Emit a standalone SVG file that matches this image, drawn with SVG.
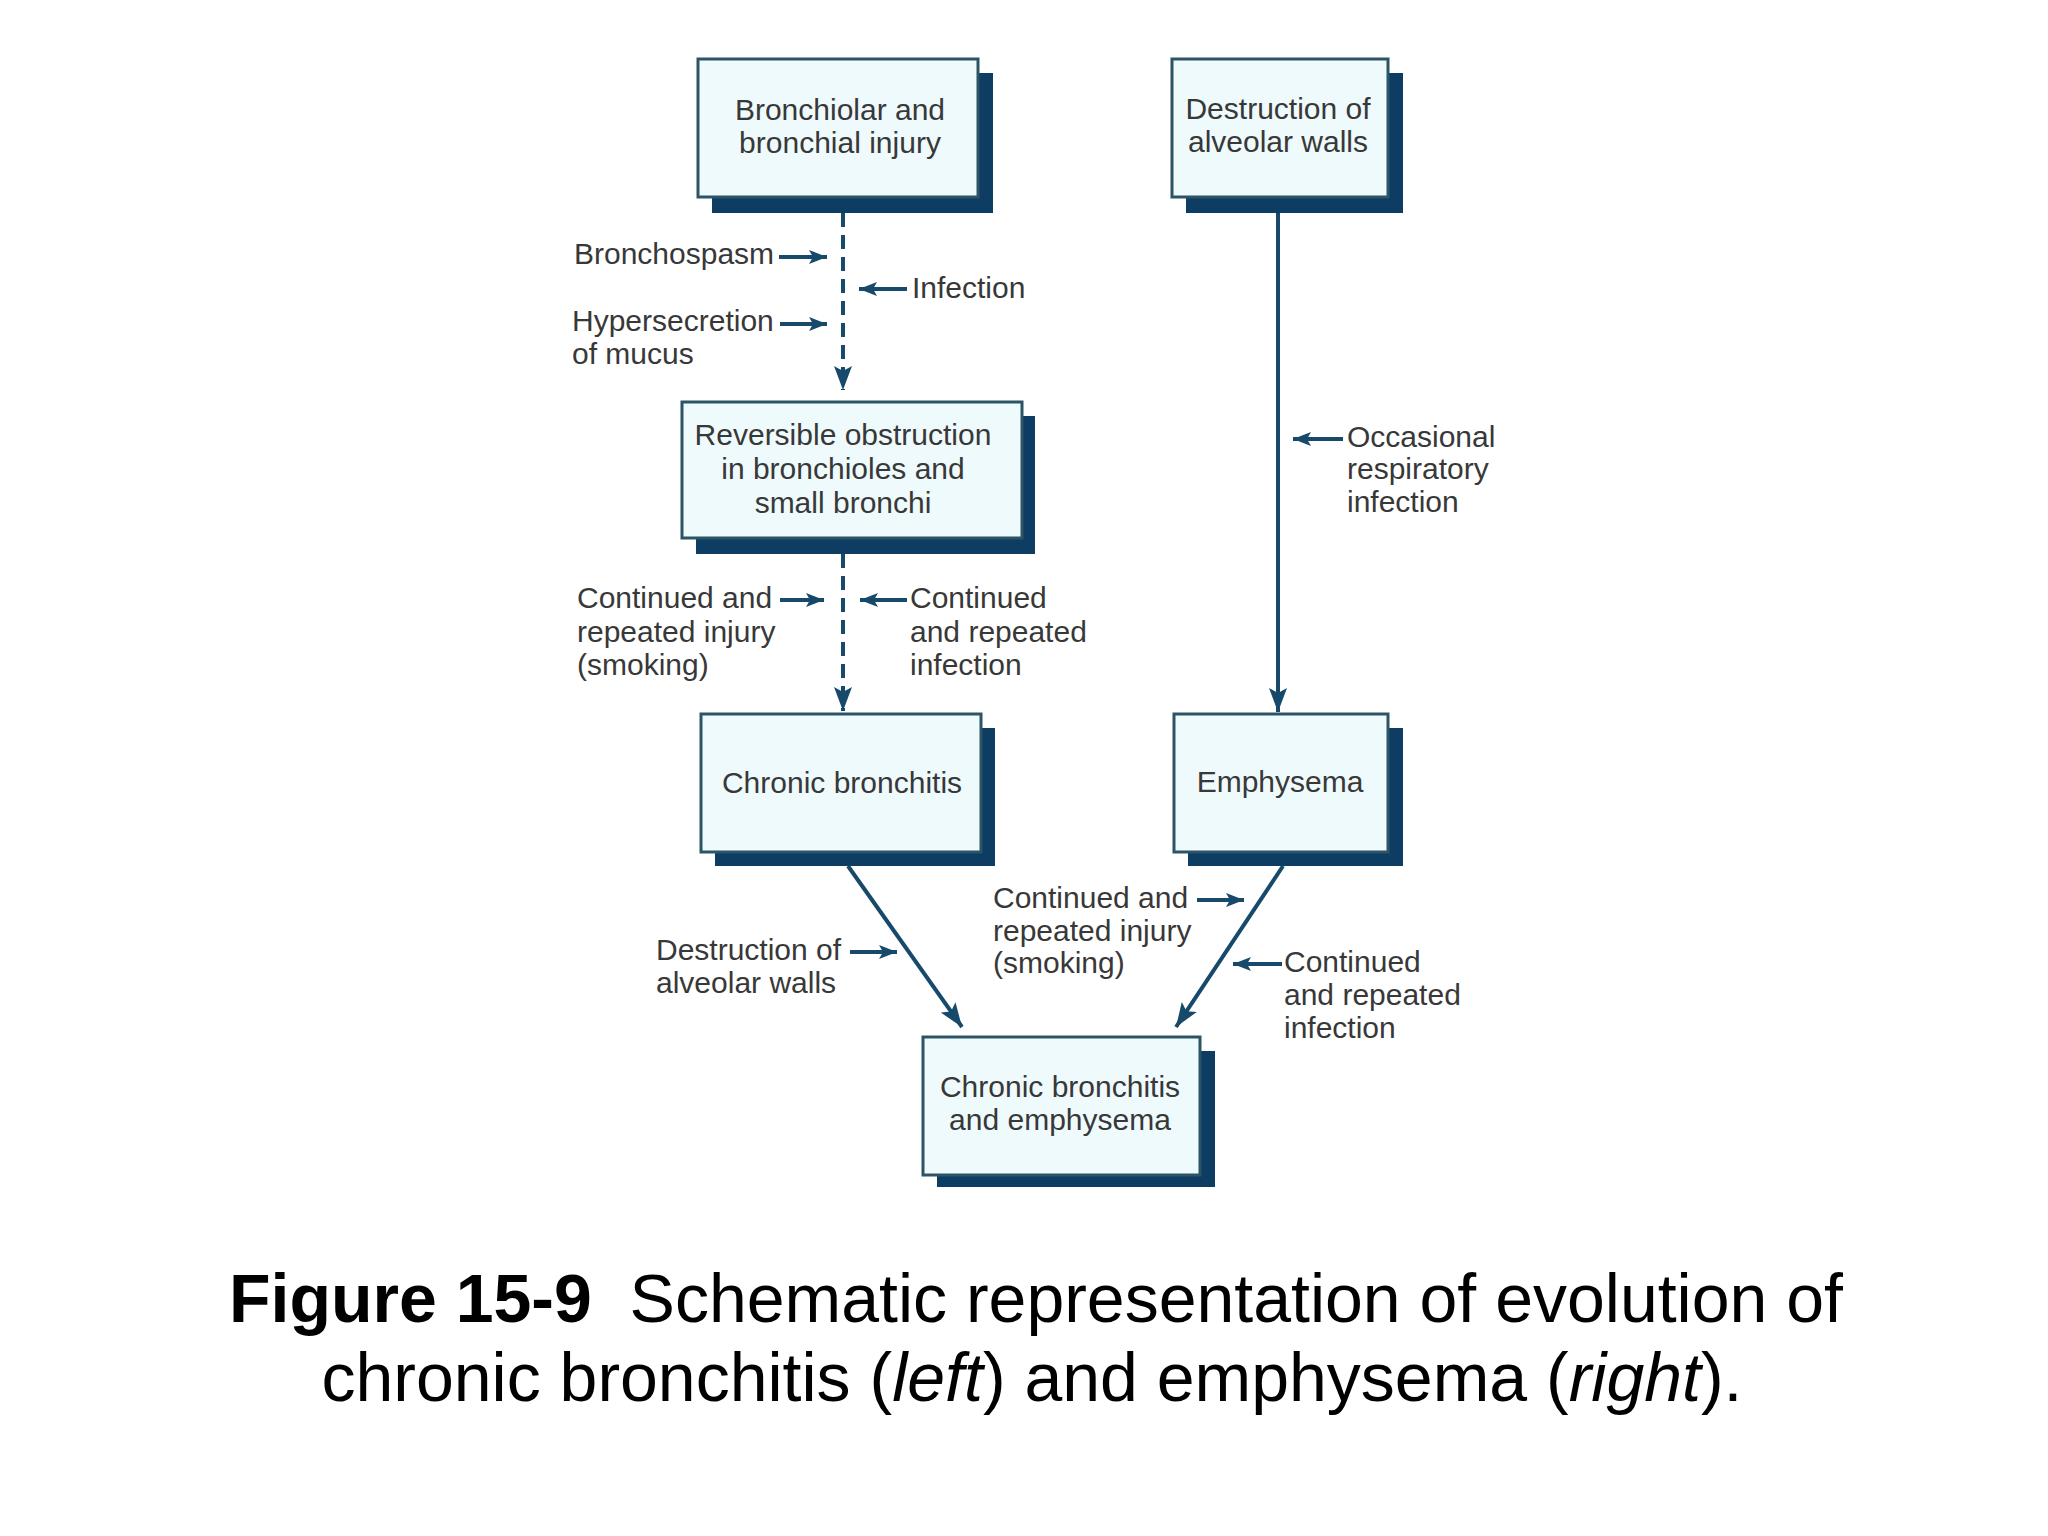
<svg xmlns="http://www.w3.org/2000/svg" width="2048" height="1536" viewBox="0 0 2048 1536">
<style>
.box{fill:#eefafc;stroke:#2d5466;stroke-width:3}
.shadow{fill:#0e3d63}
.t{font-family:"Liberation Sans",Arial,sans-serif;font-size:30px;fill:#383838}
.c{text-anchor:middle}
.ln{stroke:#17496b;stroke-width:4;fill:none}
.dash{stroke-dasharray:14 8}
.cap{font-family:"Liberation Sans",Arial,sans-serif;font-size:68px;fill:#000;text-anchor:middle}
</style>
<defs>
<marker id="big" markerUnits="userSpaceOnUse" markerWidth="26" markerHeight="20" refX="24" refY="10" orient="auto">
<path d="M0,1 L24,10 L0,19 L5,10 z" fill="#17496b"/>
</marker>
<marker id="sm" markerUnits="userSpaceOnUse" markerWidth="20" markerHeight="16" refX="18" refY="8" orient="auto">
<path d="M0,1 L18,8 L0,15 L4,8 z" fill="#17496b"/>
</marker>
</defs>
<rect width="2048" height="1536" fill="#fff"/>

<g id="connectors">
<line class="ln dash" x1="843" y1="213" x2="843" y2="390" marker-end="url(#big)"/>
<line class="ln dash" x1="843" y1="554" x2="843" y2="711" marker-end="url(#big)"/>
<line class="ln" x1="1278" y1="213" x2="1278" y2="712" marker-end="url(#big)"/>
<line class="ln" x1="848" y1="866" x2="962" y2="1027" marker-end="url(#big)"/>
<line class="ln" x1="1283" y1="866" x2="1176" y2="1027" marker-end="url(#big)"/>
<line class="ln" x1="779" y1="257" x2="827" y2="257" marker-end="url(#sm)"/>
<line class="ln" x1="907" y1="289" x2="859" y2="289" marker-end="url(#sm)"/>
<line class="ln" x1="780" y1="324" x2="827" y2="324" marker-end="url(#sm)"/>
<line class="ln" x1="780" y1="600" x2="824" y2="600" marker-end="url(#sm)"/>
<line class="ln" x1="907" y1="600" x2="860" y2="600" marker-end="url(#sm)"/>
<line class="ln" x1="1343" y1="439" x2="1293" y2="439" marker-end="url(#sm)"/>
<line class="ln" x1="850" y1="952" x2="897" y2="952" marker-end="url(#sm)"/>
<line class="ln" x1="1197" y1="900" x2="1244" y2="900" marker-end="url(#sm)"/>
<line class="ln" x1="1282" y1="964" x2="1233" y2="964" marker-end="url(#sm)"/>
</g>

<g id="labels">
<text class="t" x="574" y="264">Bronchospasm</text>
<text class="t" x="912" y="298">Infection</text>
<text class="t" x="572" y="331">Hypersecretion</text>
<text class="t" x="572" y="364">of mucus</text>
<text class="t" x="577" y="608">Continued and</text>
<text class="t" x="577" y="642">repeated injury</text>
<text class="t" x="577" y="675">(smoking)</text>
<text class="t" x="910" y="608">Continued</text>
<text class="t" x="910" y="642">and repeated</text>
<text class="t" x="910" y="675">infection</text>
<text class="t" x="1347" y="447">Occasional</text>
<text class="t" x="1347" y="479">respiratory</text>
<text class="t" x="1347" y="512">infection</text>
<text class="t" x="656" y="960">Destruction of</text>
<text class="t" x="656" y="993">alveolar walls</text>
<text class="t" x="993" y="908">Continued and</text>
<text class="t" x="993" y="941">repeated injury</text>
<text class="t" x="993" y="973">(smoking)</text>
<text class="t" x="1284" y="972">Continued</text>
<text class="t" x="1284" y="1005">and repeated</text>
<text class="t" x="1284" y="1038">infection</text>
</g>

<g id="node-bronchial-injury">
<rect class="shadow" x="712" y="73" width="281" height="140"/>
<rect class="box" x="698" y="59" width="280" height="138"/>
<text class="t c" x="840" y="120">Bronchiolar and</text>
<text class="t c" x="840" y="153">bronchial injury</text>
</g>

<g id="node-destruction">
<rect class="shadow" x="1186" y="73" width="217" height="140"/>
<rect class="box" x="1172" y="59" width="216" height="138"/>
<text class="t c" x="1278" y="119">Destruction of</text>
<text class="t c" x="1278" y="152">alveolar walls</text>
</g>

<g id="node-reversible">
<rect class="shadow" x="696" y="416" width="339" height="138"/>
<rect class="box" x="682" y="402" width="340" height="136"/>
<text class="t c" x="843" y="445">Reversible obstruction</text>
<text class="t c" x="843" y="479">in bronchioles and</text>
<text class="t c" x="843" y="513">small bronchi</text>
</g>

<g id="node-chronic-bronchitis">
<rect class="shadow" x="715" y="728" width="280" height="138"/>
<rect class="box" x="701" y="714" width="280" height="138"/>
<text class="t c" x="842" y="793">Chronic bronchitis</text>
</g>

<g id="node-emphysema">
<rect class="shadow" x="1188" y="728" width="215" height="138"/>
<rect class="box" x="1174" y="714" width="214" height="138"/>
<text class="t c" x="1280" y="792">Emphysema</text>
</g>

<g id="node-both">
<rect class="shadow" x="937" y="1051" width="278" height="136"/>
<rect class="box" x="923" y="1037" width="277" height="138"/>
<text class="t c" x="1060" y="1097">Chronic bronchitis</text>
<text class="t c" x="1060" y="1130">and emphysema</text>
</g>

<g id="caption">
<text class="cap" x="1036" y="1322"><tspan font-weight="bold">Figure 15-9</tspan>&#160; Schematic representation of evolution of</text>
<text class="cap" x="1032" y="1401">chronic bronchitis (<tspan font-style="italic">left</tspan>) and emphysema (<tspan font-style="italic">right</tspan>).</text>
</g>
</svg>
